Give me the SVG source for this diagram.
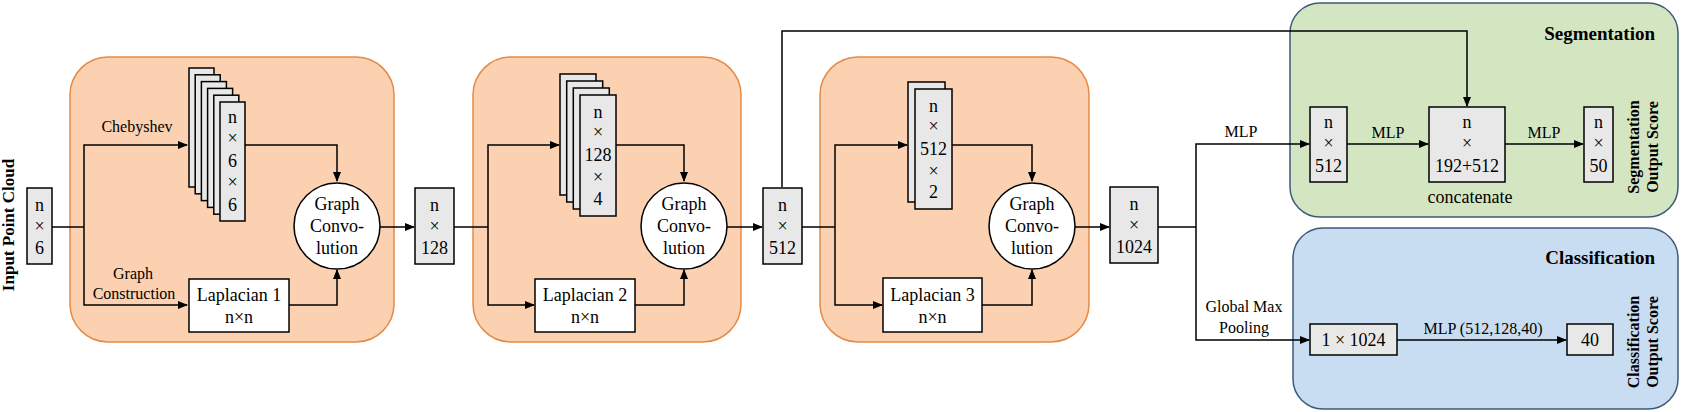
<svg xmlns="http://www.w3.org/2000/svg" width="1681" height="412" viewBox="0 0 1681 412">
<defs>
<marker id="ah" markerWidth="10" markerHeight="8" refX="9" refY="4" orient="auto" markerUnits="userSpaceOnUse"><path d="M0,0 L10,4 L0,8 z" fill="#000"/></marker>
<style>
text{font-family:"Liberation Serif","Times New Roman",serif;fill:#000}
.t{font-size:18px;text-anchor:middle}
.s{font-size:16px;text-anchor:middle}
.b{font-weight:bold;font-size:17px;text-anchor:middle}
.blk{fill:#fbd1b1;stroke:#e68a47;stroke-width:1.5}
.g{fill:#e8e8e8;stroke:#000;stroke-width:1.5}
.w{fill:#fff;stroke:#000;stroke-width:1.5}
.c path,.c polyline,.c line{fill:none;stroke:#000;stroke-width:1.5}
</style>
</defs>
<rect class="blk" x="70" y="57" width="324" height="285" rx="38"/>
<rect class="blk" x="473" y="57" width="268" height="285" rx="38"/>
<rect class="blk" x="820" y="57" width="269" height="285" rx="38"/>
<rect x="1290" y="3" width="388" height="214" rx="30" fill="#d4e6c1" stroke="#3d5a78" stroke-width="1.5"/>
<rect x="1293" y="228" width="385" height="181" rx="30" fill="#c8dcf2" stroke="#3d5a78" stroke-width="1.5"/>
<text class="b" x="1655" y="40" style="font-size:19px;text-anchor:end">Segmentation</text>
<text class="b" x="1655" y="264" style="font-size:19px;text-anchor:end">Classification</text>
<text class="b" transform="translate(14,225) rotate(-90)">Input Point Cloud</text>
<text class="b" transform="translate(1639,147) rotate(-90)" style="font-size:16px">Segmentation</text>
<text class="b" transform="translate(1658,147) rotate(-90)" style="font-size:16px">Output Score</text>
<text class="b" transform="translate(1639,342) rotate(-90)" style="font-size:16px">Classification</text>
<text class="b" transform="translate(1658,342) rotate(-90)" style="font-size:16px">Output Score</text>

<g class="c" id="connectors">
<line x1="52" y1="227" x2="84" y2="227"/>
<polyline points="84,227 84,145 187,145" marker-end="url(#ah)"/>
<polyline points="84,227 84,305 187,305" marker-end="url(#ah)"/>
<polyline points="245,145 337,145 337,181" marker-end="url(#ah)"/>
<polyline points="289,305 337,305 337,270" marker-end="url(#ah)"/>
<line x1="380" y1="227" x2="414" y2="227" marker-end="url(#ah)"/>
<line x1="454" y1="227" x2="488" y2="227"/>
<polyline points="488,227 488,145 559,145" marker-end="url(#ah)"/>
<polyline points="488,227 488,305 534,305" marker-end="url(#ah)"/>
<polyline points="616,145 684,145 684,181" marker-end="url(#ah)"/>
<polyline points="635,305 684,305 684,270" marker-end="url(#ah)"/>
<line x1="727" y1="227" x2="762" y2="227" marker-end="url(#ah)"/>
<line x1="802" y1="227" x2="835" y2="227"/>
<polyline points="835,227 835,145 907,145" marker-end="url(#ah)"/>
<polyline points="835,227 835,305 882,305" marker-end="url(#ah)"/>
<polyline points="952,145 1032,145 1032,181" marker-end="url(#ah)"/>
<polyline points="982,305 1032,305 1032,270" marker-end="url(#ah)"/>
<line x1="1075" y1="227" x2="1109" y2="227" marker-end="url(#ah)"/>
<polyline points="782,187 782,31 1467,31 1467,106" marker-end="url(#ah)"/>
<line x1="1158" y1="227" x2="1196" y2="227"/>
<polyline points="1196,227 1196,144 1309,144" marker-end="url(#ah)"/>
<polyline points="1196,227 1196,340 1309,340" marker-end="url(#ah)"/>
<line x1="1347" y1="144" x2="1428" y2="144" marker-end="url(#ah)"/>
<line x1="1505" y1="144" x2="1583" y2="144" marker-end="url(#ah)"/>
<line x1="1397" y1="340" x2="1566" y2="340" marker-end="url(#ah)"/>
</g>
<text class="s" x="137" y="132">Chebyshev</text>
<text class="s" x="133" y="279">Graph</text>
<text class="s" x="134" y="299">Construction</text>
<text class="s" x="1241" y="137">MLP</text>
<text class="s" x="1388" y="138">MLP</text>
<text class="s" x="1544" y="138">MLP</text>
<text class="s" x="1244" y="312">Global Max</text>
<text class="s" x="1244" y="333">Pooling</text>
<text class="s" x="1483" y="334">MLP (512,128,40)</text>

<g id="input"><rect class="g" x="27" y="188" width="25" height="76"/><text class="t" x="39.5" y="211">n</text><text class="t" x="39.5" y="232">×</text><text class="t" x="39.5" y="254">6</text></g>

<g id="cheb1">
<rect class="g" x="189" y="68" width="25" height="119"/>
<rect class="g" x="195.2" y="74.8" width="25" height="119"/>
<rect class="g" x="201.4" y="81.6" width="25" height="119"/>
<rect class="g" x="207.6" y="88.4" width="25" height="119"/>
<rect class="g" x="213.8" y="95.2" width="25" height="119"/>
<rect class="g" x="220" y="102" width="25" height="119"/>
<text class="t" x="232.5" y="123">n</text><text class="t" x="232.5" y="144">×</text><text class="t" x="232.5" y="167">6</text><text class="t" x="232.5" y="188">×</text><text class="t" x="232.5" y="211">6</text>
</g>
<g id="lap1"><rect class="w" x="189" y="279" width="100" height="53"/><text class="t" x="239" y="301">Laplacian 1</text><text class="t" x="239" y="323">n×n</text></g>
<g id="gc1"><circle class="w" cx="337" cy="226" r="43"/><text class="t" x="337" y="210">Graph</text><text class="t" x="337" y="232">Convo-</text><text class="t" x="337" y="254">lution</text></g>
<g id="f128"><rect class="g" x="415" y="188" width="39" height="76"/><text class="t" x="434.5" y="211">n</text><text class="t" x="434.5" y="232">×</text><text class="t" x="434.5" y="254">128</text></g>

<g id="cheb2">
<rect class="g" x="560" y="74" width="36" height="121"/>
<rect class="g" x="566.7" y="81" width="36" height="121"/>
<rect class="g" x="573.3" y="88" width="36" height="121"/>
<rect class="g" x="580" y="95" width="36" height="121"/>
<text class="t" x="598" y="118">n</text><text class="t" x="598" y="138">×</text><text class="t" x="598" y="161">128</text><text class="t" x="598" y="183">×</text><text class="t" x="598" y="205">4</text>
</g>
<g id="lap2"><rect class="w" x="535" y="279" width="100" height="53"/><text class="t" x="585" y="301">Laplacian 2</text><text class="t" x="585" y="323">n×n</text></g>
<g id="gc2"><circle class="w" cx="684" cy="226" r="43"/><text class="t" x="684" y="210">Graph</text><text class="t" x="684" y="232">Convo-</text><text class="t" x="684" y="254">lution</text></g>
<g id="f512"><rect class="g" x="763" y="188" width="39" height="76"/><text class="t" x="782.5" y="211">n</text><text class="t" x="782.5" y="232">×</text><text class="t" x="782.5" y="254">512</text></g>

<g id="cheb3">
<rect class="g" x="908" y="82" width="37" height="120"/>
<rect class="g" x="915" y="89" width="37" height="120"/>
<text class="t" x="933.5" y="112">n</text><text class="t" x="933.5" y="132">×</text><text class="t" x="933.5" y="155">512</text><text class="t" x="933.5" y="177">×</text><text class="t" x="933.5" y="198">2</text>
</g>
<g id="lap3"><rect class="w" x="883" y="278" width="99" height="54"/><text class="t" x="932.5" y="301">Laplacian 3</text><text class="t" x="932.5" y="323">n×n</text></g>
<g id="gc3"><circle class="w" cx="1032" cy="226" r="43"/><text class="t" x="1032" y="210">Graph</text><text class="t" x="1032" y="232">Convo-</text><text class="t" x="1032" y="254">lution</text></g>
<g id="f1024"><rect class="g" x="1110" y="187" width="48" height="76"/><text class="t" x="1134" y="210">n</text><text class="t" x="1134" y="231">×</text><text class="t" x="1134" y="253">1024</text></g>

<g id="s512"><rect class="g" x="1310" y="107" width="37" height="75"/><text class="t" x="1328.5" y="128">n</text><text class="t" x="1328.5" y="149">×</text><text class="t" x="1328.5" y="172">512</text></g>
<g id="concat"><rect class="g" x="1429" y="107" width="76" height="75"/><text class="t" x="1467" y="128">n</text><text class="t" x="1467" y="149">×</text><text class="t" x="1467" y="172">192+512</text><text class="t" x="1470" y="203">concatenate</text></g>
<g id="s50"><rect class="g" x="1584" y="107" width="29" height="75"/><text class="t" x="1598.5" y="128">n</text><text class="t" x="1598.5" y="149">×</text><text class="t" x="1598.5" y="172">50</text></g>
<g id="c1024"><rect class="g" x="1310" y="324" width="87" height="31"/><text class="t" x="1353.5" y="346">1 × 1024</text></g>
<g id="c40"><rect class="g" x="1567" y="324" width="46" height="31"/><text class="t" x="1590" y="346">40</text></g>
</svg>
